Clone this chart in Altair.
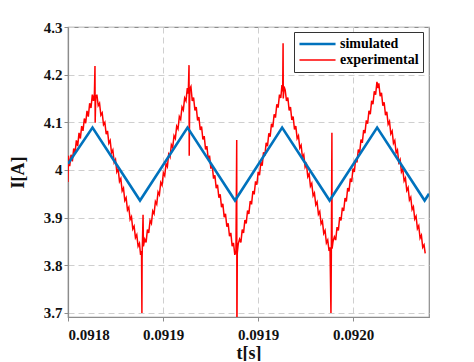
import altair as alt
import pandas as pd

T0 = 0.0918  # s; time lists below are offsets in microseconds

series_names = ["simulated", "experimental"]
series_colors = ["#0072BD", "#FF0000"]
series_widths = [2.6, 1.5]

blue_t_us = [0.0, 12.9, 37.9, 62.9, 87.9, 112.7, 137.7, 162.7, 187.7, 190.0]
blue_i = [4.013, 4.089, 3.936, 4.089, 3.936, 4.089, 3.936, 4.089, 3.936, 3.950]

red_t_us = [
    0.0, 0.2, 0.9, 1.6, 2.3, 3.0, 3.7, 4.4, 5.1, 5.8, 6.5, 7.2, 7.9, 8.6, 9.3, 10.0,
    10.7, 11.4, 12.1, 12.8, 13.4, 13.9, 14.2, 14.3, 14.6, 15.2,
    15.9, 16.6, 17.3, 18.0, 18.7, 19.4, 20.1, 20.8, 21.5, 22.2, 22.9, 23.6, 24.3, 25.0,
    25.7, 26.4, 27.1, 27.8, 28.5, 29.2, 29.9, 30.6, 31.3, 32.0, 32.7, 33.4, 34.1, 34.8,
    35.5, 36.2, 36.9, 37.6, 38.2, 38.7, 38.9, 39.0, 39.5, 39.7,
    40.4, 41.1, 41.8, 42.5, 43.2, 43.9, 44.6, 45.3, 46.0, 46.7, 47.4, 48.1, 48.8, 49.5,
    50.2, 50.9, 51.6, 52.3, 53.0, 53.7, 54.4, 55.1, 55.8, 56.5, 57.2, 57.9, 58.6, 59.3,
    60.0, 60.7, 61.4, 62.1, 62.8, 63.3, 63.7, 63.8, 64.1, 64.7,
    65.4, 66.1, 66.8, 67.5, 68.2, 68.9, 69.6, 70.3, 71.0, 71.7, 72.4, 73.1, 73.8, 74.5,
    75.2, 75.9, 76.6, 77.3, 78.0, 78.7, 79.4, 80.1, 80.8, 81.5, 82.2, 82.9, 83.6, 84.3,
    85.0, 85.7, 86.4, 87.1, 87.8, 88.4, 88.8, 88.9, 89.1, 89.6,
    90.3, 91.0, 91.7, 92.4, 93.1, 93.8, 94.5, 95.2, 95.9, 96.6, 97.3, 98.0, 98.7, 99.4,
    100.1, 100.8, 101.5, 102.2, 102.9, 103.6, 104.3, 105.0, 105.7, 106.4, 107.1, 107.8,
    108.5, 109.2, 109.9, 110.6, 111.3, 112.0, 112.6, 113.0, 113.2, 113.3, 113.7, 114.3,
    115.0, 115.7, 116.4, 117.1, 117.8, 118.5, 119.2, 119.9, 120.6, 121.3, 122.0, 122.7,
    123.4, 124.1, 124.8, 125.5, 126.2, 126.9, 127.6, 128.3, 129.0, 129.7, 130.4, 131.1,
    131.8, 132.5, 133.2, 133.9, 134.6, 135.3, 136.0, 136.7, 137.4, 137.9, 138.4, 138.6,
    138.9, 139.0, 139.5,
    140.2, 140.9, 141.6, 142.3, 143.0, 143.7, 144.4, 145.1, 145.8, 146.5, 147.2, 147.9,
    148.6, 149.3, 150.0, 150.7, 151.4, 152.1, 152.8, 153.5, 154.2, 154.9, 155.6, 156.3,
    157.0, 157.7, 158.4, 159.1, 159.8, 160.5, 161.2, 161.9, 162.6, 163.2, 163.6,
    164.3, 165.0, 165.7, 166.4, 167.1, 167.8, 168.5, 169.2, 169.9, 170.6, 171.3, 172.0,
    172.7, 173.4, 174.1, 174.8, 175.5, 176.2, 176.9, 177.6, 178.3, 179.0, 179.7, 180.4,
    181.1, 181.8, 182.5, 183.2, 183.9, 184.6, 185.3, 186.0, 186.7, 187.4, 188.0,
]
red_i = [
    3.975, 4.030, 4.008, 4.032, 4.018, 4.045, 4.035, 4.062, 4.050, 4.078, 4.066, 4.092, 4.082, 4.108, 4.098, 4.124,
    4.112, 4.140, 4.130, 4.158, 4.145, 4.160, 4.218, 4.099, 4.152, 4.158,
    4.135, 4.140, 4.115, 4.120, 4.095, 4.100, 4.075, 4.082, 4.056, 4.062, 4.036, 4.042, 4.016, 4.022,
    3.996, 4.002, 3.976, 3.982, 3.956, 3.962, 3.936, 3.942, 3.916, 3.922, 3.896, 3.902, 3.876, 3.882,
    3.858, 3.864, 3.840, 3.846, 3.822, 3.830, 3.700, 3.815, 3.906, 3.840,
    3.855, 3.848, 3.875, 3.868, 3.894, 3.888, 3.914, 3.908, 3.934, 3.928, 3.954, 3.948, 3.974, 3.968,
    3.994, 3.988, 4.013, 4.007, 4.033, 4.027, 4.053, 4.047, 4.072, 4.066, 4.092, 4.086, 4.112, 4.106,
    4.132, 4.126, 4.151, 4.145, 4.172, 4.160, 4.220, 4.030, 4.170, 4.175,
    4.145, 4.152, 4.125, 4.132, 4.104, 4.111, 4.084, 4.091, 4.064, 4.071, 4.043, 4.050, 4.023, 4.030,
    4.003, 4.010, 3.982, 3.989, 3.962, 3.969, 3.942, 3.949, 3.922, 3.929, 3.901, 3.908, 3.881, 3.888,
    3.861, 3.868, 3.840, 3.847, 3.822, 3.830, 4.063, 3.640, 3.826, 3.845,
    3.855, 3.848, 3.875, 3.868, 3.895, 3.888, 3.915, 3.908, 3.935, 3.928, 3.956, 3.949, 3.976, 3.969,
    3.996, 3.989, 4.016, 4.009, 4.037, 4.030, 4.057, 4.050, 4.077, 4.070, 4.097, 4.090,
    4.117, 4.110, 4.138, 4.131, 4.158, 4.151, 4.178, 4.165, 4.266, 4.150, 4.175, 4.168,
    4.145, 4.152, 4.125, 4.132, 4.105, 4.112, 4.085, 4.092, 4.066, 4.072, 4.046, 4.052,
    4.026, 4.032, 4.006, 4.012, 3.986, 3.992, 3.966, 3.972, 3.946, 3.952, 3.927, 3.933,
    3.907, 3.913, 3.887, 3.893, 3.867, 3.873, 3.847, 3.853, 3.830, 3.838, 3.700, 3.825,
    4.078, 3.835, 3.850,
    3.860, 3.853, 3.880, 3.873, 3.901, 3.894, 3.921, 3.914, 3.941, 3.934, 3.962, 3.955,
    3.982, 3.975, 4.003, 3.996, 4.023, 4.016, 4.043, 4.036, 4.064, 4.057, 4.084, 4.077,
    4.104, 4.097, 4.124, 4.117, 4.145, 4.138, 4.165, 4.158, 4.185, 4.172, 4.182,
    4.155, 4.162, 4.135, 4.142, 4.115, 4.122, 4.096, 4.102, 4.076, 4.082, 4.056, 4.062,
    4.036, 4.042, 4.016, 4.022, 3.996, 4.002, 3.977, 3.983, 3.957, 3.963, 3.937, 3.943,
    3.917, 3.923, 3.897, 3.903, 3.877, 3.883, 3.857, 3.863, 3.838, 3.843, 3.825,
]

x_ticks = [0.09180, 0.09185, 0.09190, 0.09195]
x_tick_labels = ["0.0918", "0.0919", "0.0919", "0.0920"]
y_ticks = [3.7, 3.8, 3.9, 4.0, 4.1, 4.2, 4.3]

blue_df = pd.DataFrame({"t": [T0 + v * 1e-6 for v in blue_t_us], "I": blue_i, "series": "simulated"})
red_df = pd.DataFrame({"t": [T0 + v * 1e-6 for v in red_t_us], "I": red_i, "series": "experimental"})

parts = []
for k in range(len(x_ticks) - 1):
    mid = (x_ticks[k] + x_ticks[k + 1]) / 2
    parts.append(f"datum.value < {mid!r} ? '{x_tick_labels[k]}' : ")
x_label_expr = "".join(parts) + f"'{x_tick_labels[-1]}'"

FONT = "Liberation Serif"
TXT = "#111111"

x_enc = alt.X("t:Q", scale=alt.Scale(domain=[0.09180, 0.09199], nice=False, zero=False),
              axis=alt.Axis(values=x_ticks, labelExpr=x_label_expr, title="t[s]",
                            labelFont=FONT, labelFontSize=15, labelFontWeight="bold", labelColor=TXT,
                            titleFont=FONT, titleFontSize=18, titleFontWeight="bold", titleColor=TXT,
                            labelPadding=6, titlePadding=2))
y_enc = alt.Y("I:Q", scale=alt.Scale(domain=[3.6916, 4.3], nice=False, zero=False),
              axis=alt.Axis(values=y_ticks, format="~g", title="I[A]",
                            labelFont=FONT, labelFontSize=15, labelFontWeight="bold", labelColor=TXT,
                            titleFont=FONT, titleFontSize=18, titleFontWeight="bold", titleColor=TXT,
                            labelPadding=2,
                            titleX=-50, titleY=145, titleAngle=-90, titleAlign="center",
                            titleBaseline="middle"))
legend_cfg = alt.Legend(title=None, orient="none", legendX=226, legendY=5,
                        symbolType="stroke", symbolSize=1300, clipHeight=16,
                        labelFont=FONT, labelFontSize=14, labelFontWeight="bold",
                        labelColor="#000000", labelOffset=3,
                        padding=4, rowPadding=0,
                        strokeColor="#333333", fillColor="white")
color_enc = alt.Color("series:N", scale=alt.Scale(domain=series_names, range=series_colors),
                      legend=legend_cfg)
width_enc = alt.StrokeWidth("series:N", scale=alt.Scale(domain=series_names, range=series_widths),
                            legend=legend_cfg)

red = alt.Chart(red_df).mark_line(clip=True).encode(x=x_enc, y=y_enc, color=color_enc, strokeWidth=width_enc)
blue = alt.Chart(blue_df).mark_line(clip=True).encode(x=x_enc, y=y_enc, color=color_enc, strokeWidth=width_enc)

chart = alt.layer(red, blue).properties(
    width=361, height=290,
    autosize=alt.AutoSizeParams(type="none"),
    padding={"left": 60, "top": 19, "right": 37, "bottom": 44},
).configure_view(
    stroke="#8c8c8c", strokeWidth=1.2
).configure_axis(
    domainColor="#8c8c8c", domainWidth=1.2, tickColor="#8c8c8c", tickSize=4,
    grid=True, gridColor="#cfcfcf", gridDash=[6, 4], gridWidth=1,
)

chart.save("out.html", embed_options={"renderer": "svg", "actions": False})
